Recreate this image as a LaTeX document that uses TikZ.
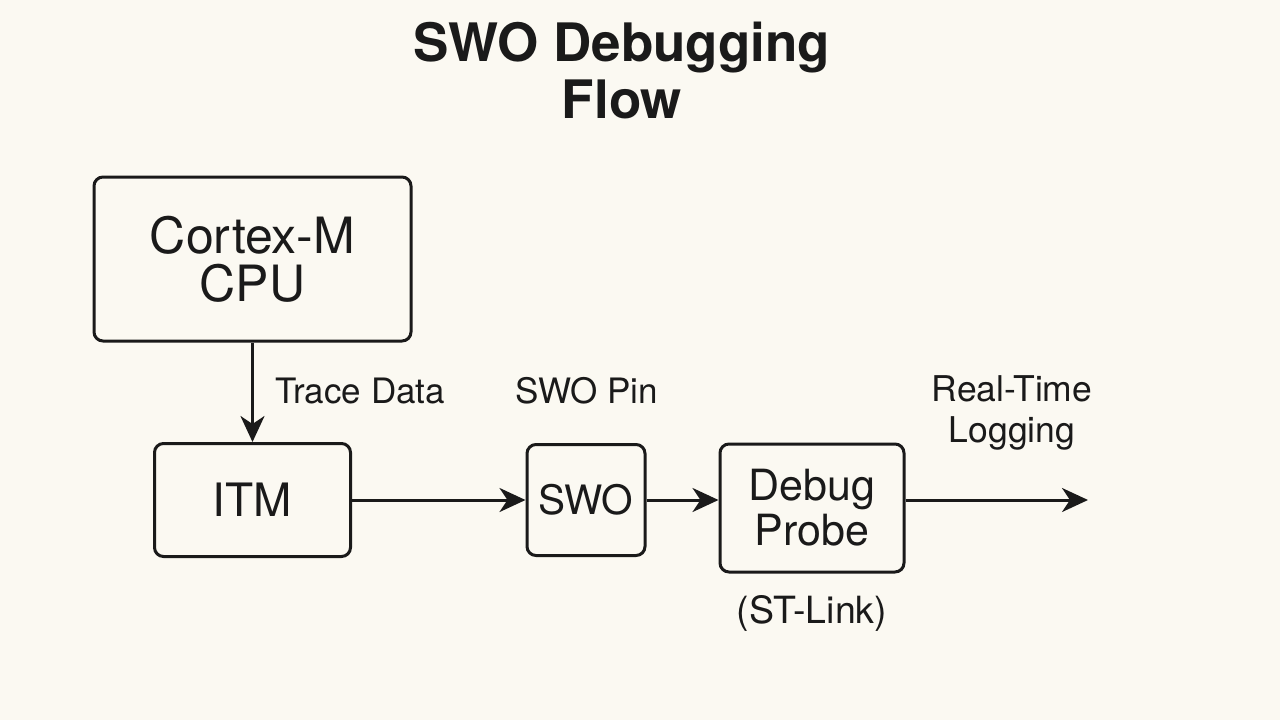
\documentclass[tikz,border=0pt]{standalone}
\usepackage{fontspec}
\setmainfont{TeX Gyre Heros}
\usetikzlibrary{arrows.meta, positioning}
\definecolor{paper}{HTML}{FBF9F2}
\definecolor{ink}{HTML}{1A1A1A}

\begin{document}
\begin{tikzpicture}[
    x=1pt, y=-1pt,
    block/.style={rectangle, draw=ink, fill=paper, line width=3pt, rounded corners=9pt, align=center, text=ink, inner sep=0pt},
    flow/.style={-{Stealth[length=26pt, width=24pt, inset=8pt]}, line width=3pt, ink},
    lbl/.style={text=ink, align=center, font=\fontsize{35}{41}\selectfont, inner sep=0pt}
]
    \useasboundingbox[fill=paper] (0,0) rectangle (1280,720);

    % Title
    \node (title) [text=ink, align=center, font=\fontsize{53}{57}\selectfont\bfseries] at (622, 70) {SWO Debugging\\Flow};

    % Blocks
    \node (cpu) [block, minimum width=317pt, minimum height=164pt, font=\fontsize{50}{48}\selectfont] at (252.5, 259) {Cortex-M\\CPU};
    \node (itm) [block, minimum width=196pt, minimum height=113pt, font=\fontsize{46}{48}\selectfont] at (252.5, 500) {ITM};
    \node (swo) [block, minimum width=118pt, minimum height=111pt, font=\fontsize{40.5}{48}\selectfont] at (586, 500) {SWO};
    \node (probe) [block, minimum width=184pt, minimum height=128pt, font=\fontsize{43}{45}\selectfont] at (812, 508) {Debug\\Probe};
    \coordinate (logend) at (1088, 500);

    % Labels
    \node (tracelbl) [lbl, anchor=west] at (275, 391) {Trace Data};
    \node (pinlbl) [lbl] at (587, 391) {SWO Pin};
    \node (loglbl) [lbl, font=\fontsize{35.5}{41}\selectfont] at (1012, 413) {Real-Time\\Logging};
    \node (stlink) [lbl, below=22pt of probe, font=\fontsize{37.5}{41}\selectfont] {(ST-Link)};

    % Arrows
    \draw [flow] (cpu) -- (itm);
    \draw [flow] (itm) -- (swo);
    \draw [flow] (swo.east) -- (swo.east -| probe.west);
    \draw [flow] (logend -| probe.east) -- (logend);
\end{tikzpicture}
\end{document}
